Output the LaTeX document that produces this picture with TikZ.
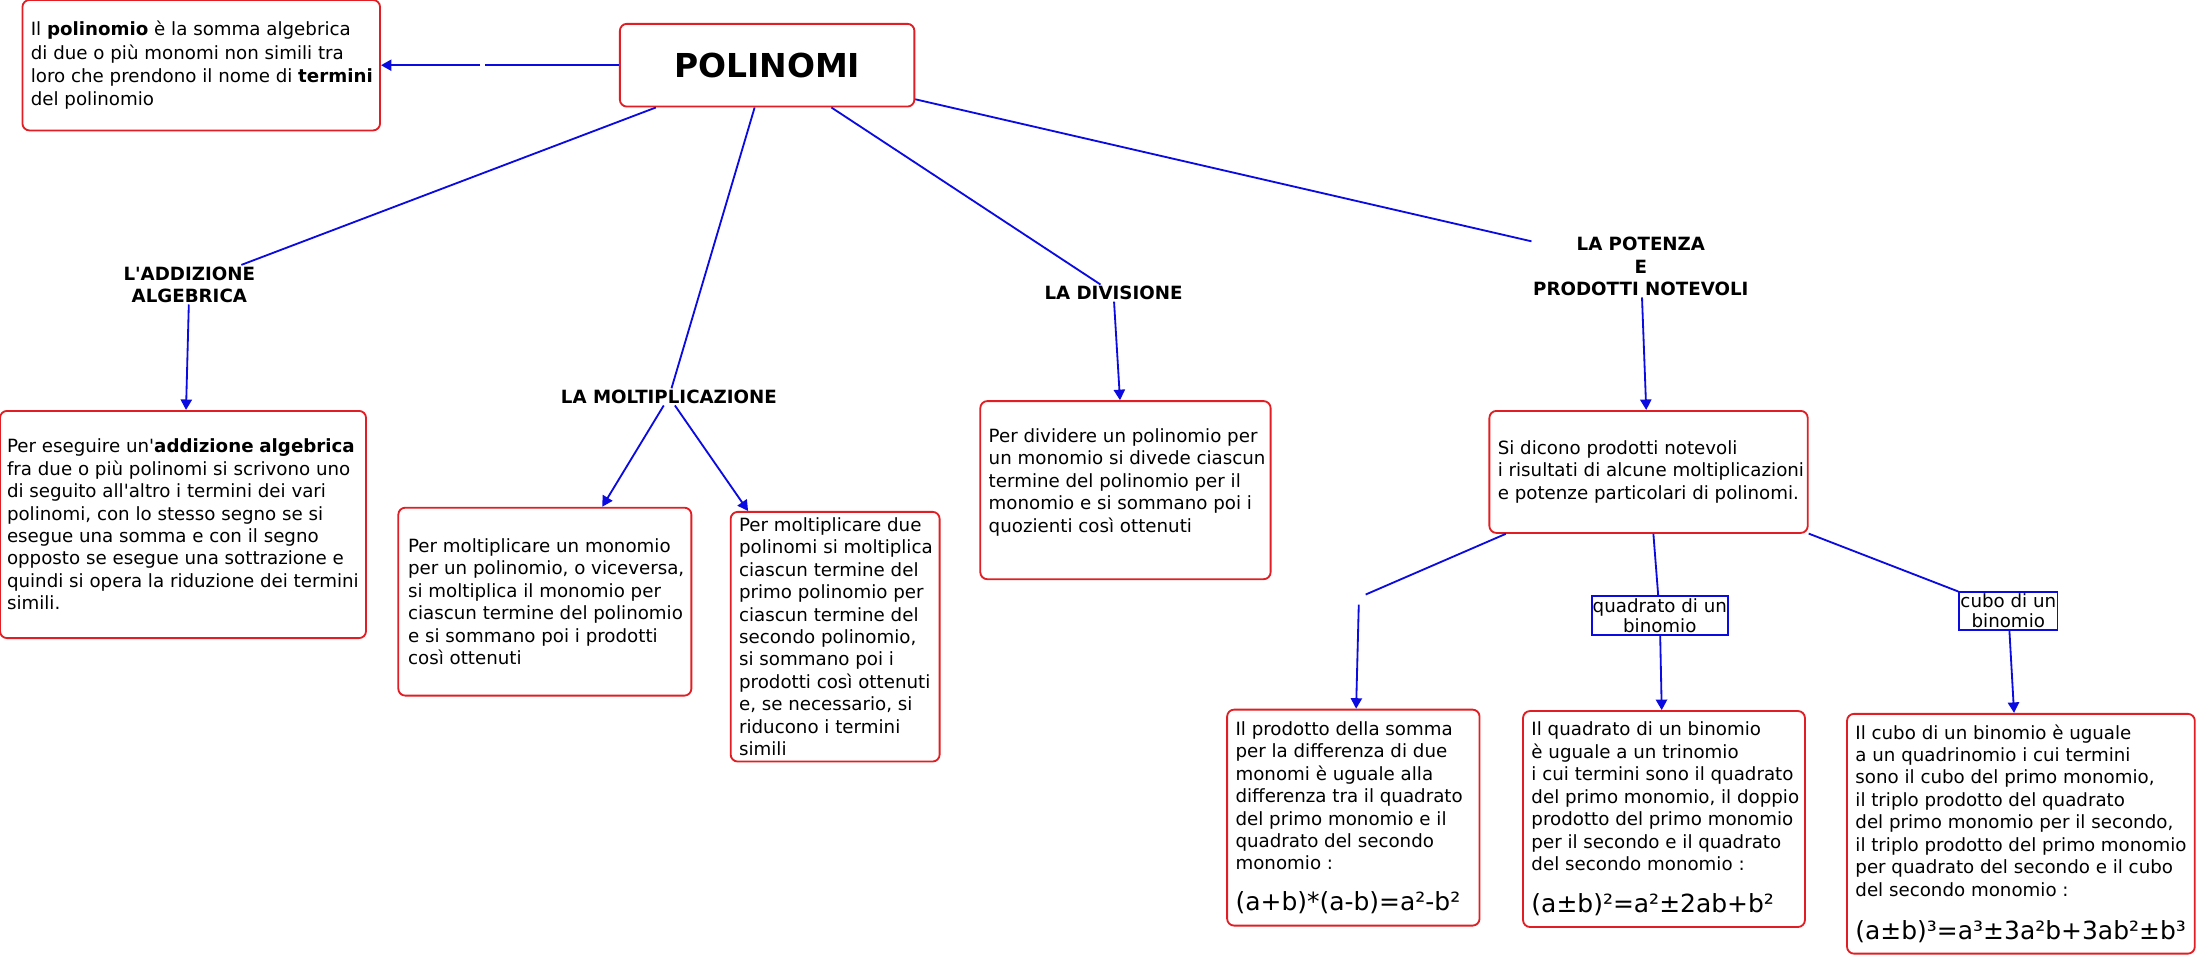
\documentclass[tikz,border=0pt]{standalone}
\usepackage{fontspec}
\setmainfont{DejaVu Sans}
\usetikzlibrary{arrows.meta}
\definecolor{boxred}{RGB}{225,30,35}
\definecolor{linkblue}{RGB}{10,10,225}
\newcommand{\fmlsize}{\fontsize{17.8}{20}\selectfont}

\begin{document}
\begin{tikzpicture}[x=1pt, y=-1pt,
  box/.style={draw=boxred, line width=1.3pt, rounded corners=5pt, fill=white,
    inner xsep=6pt, inner ysep=0pt, font=\fontsize{13}{16}\selectfont,
    execute at begin node={\spaceskip=\fontdimen2\font\relax
      \rightskip=0pt plus 1fil minus 60pt\hyphenpenalty=10000}},
  tag/.style={font=\bfseries\fontsize{13}{16}\selectfont, align=center, inner sep=1pt},
  subtag/.style={draw=linkblue, line width=1.2pt, fill=white, align=center,
    inner sep=0pt, font=\fontsize{13}{14}\selectfont},
  gap/.style={circle, inner sep=0pt},
  conn/.style={draw=linkblue, line width=1.3pt},
  arr/.style={conn, -{Triangle[length=7.5pt,width=8pt]}}]
  \useasboundingbox (0,0) rectangle (1568,682);
  % centre
  \node[box, align=center, inner xsep=0pt, minimum width=210, minimum height=59,
    font=\bfseries\fontsize{23.5}{28}\selectfont] (pol) at (547,46.5) {POLINOMI};
  \node[box, text width=243, minimum height=93,
    font=\fontsize{13}{16.5}\selectfont] (def) at (143.5,46.5)
    {Il \textbf{polinomio} è la somma algebrica\\
     di due o più monomi non simili tra\\
     loro che prendono il nome di \textbf{termini}\\
     del polinomio};
  \node[gap, minimum size=3] (g1) at (344,46.5) {};
  % first level
  \node[tag] (add) at (135,203) {L\textquotesingle ADDIZIONE\\ALGEBRICA};
  \node[tag] (molt) at (477,283) {LA MOLTIPLICAZIONE};
  \node[tag] (div) at (794,209) {LA DIVISIONE};
  \node[tag] (pot) at (1170,190) {LA POTENZA\\E\\PRODOTTI NOTEVOLI};
  % boxes
  \node[box, inner xsep=5pt, text width=251, minimum height=162] (tAdd) at (130.5,374)
    {Per eseguire un\textquotesingle\textbf{addizione algebrica}\\
     fra due o più polinomi si scrivono uno\\
     di seguito all\textquotesingle altro i termini dei vari\\
     polinomi, con lo stesso segno se si\\
     esegue una somma e con il segno\\
     opposto se esegue una sottrazione e\\
     quindi si opera la riduzione dei termini\\
     simili.};
  \node[box, inner xsep=7pt, text width=195, minimum height=134] (tMolt1) at (388.5,429)
    {Per moltiplicare un monomio\\
     per un polinomio, o viceversa,\\
     si moltiplica il monomio per\\
     ciascun termine del polinomio\\
     e si sommano poi i prodotti\\
     così ottenuti};
  \node[box, text width=137, minimum height=178] (tMolt2) at (595.5,454)
    {Per moltiplicare due\\
     polinomi si moltiplica\\
     ciascun termine del\\
     primo polinomio per\\
     ciascun termine del\\
     secondo polinomio,\\
     si sommano poi i\\
     prodotti così ottenuti\\
     e, se necessario, si\\
     riducono i termini\\
     simili};
  \node[box, text width=195, minimum height=127] (tDiv) at (802.5,349.5)
    {Per dividere un polinomio per\\
     un monomio si divede ciascun\\
     termine del polinomio per il\\
     monomio e si sommano poi i\\
     quozienti così ottenuti\\[-2pt]
     \mbox{}};
  \node[box, text width=215, minimum height=87] (tNot) at (1175.5,336.5)
    {Si dicono prodotti notevoli\\
     i risultati di alcune moltiplicazioni\\
     e potenze particolari di polinomi.};
  % prodotti notevoli
  \node[gap, minimum size=10] (g2) at (969,426) {};
  \node[subtag, minimum width=97, minimum height=28] (quad) at (1183.5,439) {quadrato di un\\binomio};
  \node[subtag, minimum width=70, minimum height=27] (cubo) at (1432,435.5) {cubo di un\\binomio};
  \node[box, text width=168, minimum height=154] (tSomma) at (965,583)
    {Il prodotto della somma\\
     per la differenza di due\\
     monomi è uguale alla\\
     differenza tra il quadrato\\
     del primo monomio e il\\
     quadrato del secondo\\
     monomio :\\[13pt]
     {\fmlsize (a+b)*(a-b)=a²-b²}};
  \node[box, text width=189, minimum height=154] (tQuad) at (1186.5,584)
    {Il quadrato di un binomio\\
     è uguale a un trinomio\\
     i cui termini sono il quadrato\\
     del primo monomio, il doppio\\
     prodotto del primo monomio\\
     per il secondo e il quadrato\\
     del secondo monomio :\\[14pt]
     {\fmlsize (a±b)²=a²±2ab+b²}};
  \node[box, text width=236, minimum height=171] (tCubo) at (1441,594.5)
    {Il cubo di un binomio è uguale\\
     a un quadrinomio i cui termini\\
     sono il cubo del primo monomio,\\
     il triplo prodotto del quadrato\\
     del primo monomio per il secondo,\\
     il triplo prodotto del primo monomio\\
     per quadrato del secondo e il cubo\\
     del secondo monomio :\\[15pt]
     {\fmlsize (a±b)³=a³±3a²b+3ab²±b³}};
  % connectors
  \draw[conn] (pol) -- (g1);
  \draw[arr] (g1) -- (def.east);
  \draw[conn] (pol) -- (add);
  \draw[conn] (pol) -- (molt);
  \draw[conn] (pol) -- (div);
  \draw[conn] (pol) -- (pot);
  \draw[arr] (add) -- (tAdd);
  \draw[arr] (molt) -- (tMolt1);
  \draw[arr] (molt) -- (tMolt2);
  \draw[arr] (div) -- (tDiv);
  \draw[arr] (pot) -- (tNot);
  \draw[conn] (tNot) -- (g2);
  \draw[conn] (tNot) -- (quad);
  \draw[conn] (tNot) -- (cubo);
  \draw[arr] (g2) -- (tSomma);
  \draw[arr] (quad) -- (tQuad);
  \draw[arr] (cubo) -- (tCubo);
\end{tikzpicture}
\end{document}
